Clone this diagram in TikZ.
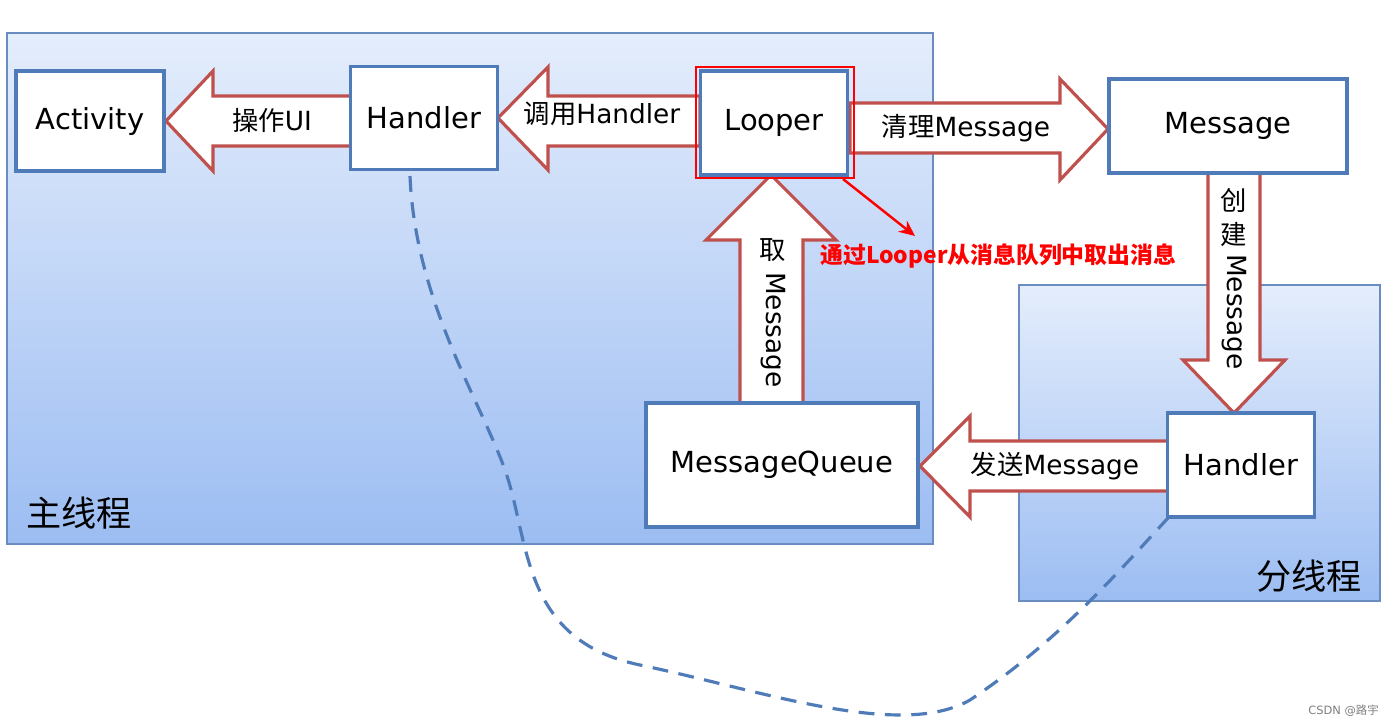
\documentclass[tikz,border=0pt]{standalone}
\usepackage{fontspec}
\setmainfont{DejaVu Sans}
\newfontfamily\cjk{Noto Sans CJK SC}
\usetikzlibrary{arrows.meta,calc}
\definecolor{panelline}{HTML}{6A8CC0}
\definecolor{paneltop}{HTML}{E4EDFC}
\definecolor{panelbot}{HTML}{9CBDF2}
\definecolor{boxline}{HTML}{4F7BB8}
\definecolor{arrowline}{HTML}{C0504D}
\definecolor{dashline}{HTML}{4F7BB8}

\tikzset{
  panel/.style={draw=panelline, line width=0.8pt, top color=paneltop, bottom color=panelbot},
  box/.style={rectangle, draw=boxline, line width=2pt, fill=white, font=\fontsize{16.5}{19}\selectfont},
  blockarrow/.style={draw=arrowline, line width=1.8pt, fill=white, line join=miter},
  arrowlabel/.style={font=\fontsize{15}{18}\selectfont, inner sep=0pt}
}

\begin{document}
\begin{tikzpicture}[x=0.02cm, y=-0.02cm]
\useasboundingbox[fill=white] (0,0) rectangle (1393,727);

% thread panels
\path[panel] (7,33) rectangle (933,544);
\path[panel] (1019,285) rectangle (1380,601);
\node[font=\cjk\fontsize{20}{23}\selectfont, anchor=west] (mainlbl) at (20,513) {主线程};
\node[font=\cjk\fontsize{20}{23}\selectfont, anchor=west] (sublbl) at (1250,576) {分线程};

% dashed link between the two handlers
\draw[dashline, line width=1.8pt, dash pattern=on 9pt off 6pt]
  (410,176) .. controls (415,300) and (480,400) .. (505,470)
  .. controls (530,540) and (520,640) .. (640,665)
  .. controls (760,690) and (900,740) .. (970,700)
  .. controls (1060,640) and (1120,570) .. (1168,518);

% block arrows
\draw[blockarrow] (351,96) -- (213,96) -- (213,71) -- (166,121) -- (213,171) -- (213,146) -- (351,146) -- cycle;
\draw[blockarrow] (700,96) -- (548,96) -- (548,67) -- (498,118) -- (548,170) -- (548,146) -- (700,146) -- cycle;
\draw[blockarrow] (850,103) -- (1060,103) -- (1060,79) -- (1108,129) -- (1060,180) -- (1060,153) -- (850,153) -- cycle;
\draw[blockarrow] (740,403) -- (740,240) -- (706,240) -- (771,175) -- (836,240) -- (803,240) -- (803,403) -- cycle;
\draw[blockarrow] (1208,173) -- (1208,360) -- (1183,360) -- (1234,413) -- (1285,360) -- (1260,360) -- (1260,173) -- cycle;
\draw[blockarrow] (1168,441) -- (970,441) -- (970,416) -- (920,466) -- (970,517) -- (970,491) -- (1168,491) -- cycle;

% boxes
\node[box, minimum width=2.96cm, minimum height=2cm] (act) at (90,121) {Activity};
\node[box, minimum width=2.94cm, minimum height=2.06cm] (hdl) at (424,118) {Handler};
\node[box, minimum width=2.94cm, minimum height=2.08cm] (looper) at (774,123) {Looper};
\node[box, minimum width=4.76cm, minimum height=1.88cm] (msg) at (1228,126) {Message};
\node[box, minimum width=5.44cm, minimum height=2.48cm] (queue) at (782,465) {MessageQueue};
\node[box, minimum width=2.94cm, minimum height=2.08cm] (subhdl) at (1241,465) {Handler};
\draw[red, line width=0.8pt] (696,67) rectangle (854,178);

% arrow labels
\node[arrowlabel] (lblui) at (272,120) {{\cjk 操作}UI};
\node[arrowlabel] (lblcall) at (602,114) {{\cjk 调用}Handler};
\node[arrowlabel] (lblclean) at (966,128) {{\cjk 清理}Message};
\node[arrowlabel] (lblsend) at (1055,466) {{\cjk 发送}Message};
\node[arrowlabel, font=\cjk\fontsize{15}{18}\selectfont] (lbltake) at (773,250) {取};
\node[arrowlabel, rotate=-90] (lbltakemsg) at (773,330) {Message};
\node[arrowlabel, font=\cjk\fontsize{15}{18}\selectfont] (lblnew1) at (1234,200) {创};
\node[arrowlabel, font=\cjk\fontsize{15}{18}\selectfont] (lblnew2) at (1234,234) {建};
\node[arrowlabel, rotate=-90] (lblnewmsg) at (1234,312) {Message};

% red note
\node[anchor=west, text=red, font=\cjk\bfseries\fontsize{13}{15}\selectfont, inner sep=0pt] (note) at (820,256) {通过Looper从消息队列中取出消息};
\coordinate (notetip) at (915,236);
\draw[red, line width=1.4pt, -{Stealth[length=9pt, width=8pt]}] (843,179) -- (notetip);

\node[anchor=east, text=gray, font=\fontsize{6.5}{8}\selectfont] (mark) at (1385,711) {CSDN @{\cjk 路宇}};
\end{tikzpicture}
\end{document}
